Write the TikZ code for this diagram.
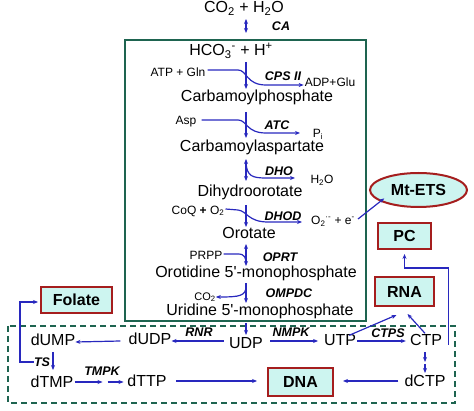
\documentclass[tikz,border=0pt]{standalone}
\usepackage{fontspec}
\setmainfont{Liberation Sans}
\usetikzlibrary{arrows.meta,shapes.geometric,calc}
\definecolor{boxgreen}{RGB}{30,100,80}
\definecolor{arrblue}{RGB}{40,40,190}
\definecolor{cyanfill}{RGB}{205,245,240}
\definecolor{boxred}{RGB}{165,30,30}
\newcommand\dn[1]{\textsubscript{#1}}
\newcommand\up[1]{\textsuperscript{#1}}
\begin{document}
\begin{tikzpicture}[x=1pt,y=-1pt,
 big/.style={font=\fontsize{16}{18}\selectfont, inner sep=0pt, text height=11.5pt, text depth=3.5pt},
 small/.style={font=\fontsize{12}{14}\selectfont, inner sep=0pt},
 enz/.style={font=\fontsize{12.5}{14}\selectfont\bfseries\itshape, inner sep=0pt},
 target/.style={draw=boxred, fill=cyanfill, line width=2pt, font=\fontsize{16}{18}\selectfont\bfseries, inner sep=0pt},
 arr/.style={draw=arrblue, line width=1.2pt, -{Stealth[length=5pt,width=4pt]}},
 darr/.style={draw=arrblue, line width=1.2pt, {Stealth[length=5pt,width=4pt]}-{Stealth[length=5pt,width=4pt]}},
 ln/.style={draw=arrblue, line width=1.2pt},
]
\useasboundingbox (0,0) rectangle (474,411);
% frames
\draw[boxgreen, line width=2pt] (125,40) rectangle (366,321);
\draw[boxgreen, line width=2pt, dash pattern=on 6pt off 4pt] (8,326) rectangle (455,403);
% main pathway
\node[big] (co2) at (244,9) {CO\dn{2} + H\dn{2}O};
\node[big] (hco3) at (231,52) {HCO\dn{3}\up{-} + H\up{+}};
\node[big] (carbp) at (257,98) {Carbamoylphosphate};
\node[big] (carba) at (252,148) {Carbamoylaspartate};
\node[big] (dihy) at (250,193) {Dihydroorotate};
\node[big] (oro) at (249,235) {Orotate};
\node[big] (omp) at (256,274) {Orotidine 5\textquotesingle-monophosphate};
\node[big] (ump) at (260,312) {Uridine 5\textquotesingle-monophosphate};
% side reactants
\node[small] (atp) at (178,72) {ATP + Gln};
\node[small] (adp) at (330,82) {ADP+Glu};
\node[small] (asp) at (186,122) {Asp};
\node[small] (pi) at (318,134) {P\dn{i}};
\node[small] (h2o) at (322,180) {H\dn{2}O};
\node[small] (coq) at (198,211) {CoQ \textbf{+} O\dn{2}};
\node[small] (o2m) at (333,221) {O\dn{2}\up{·-} + e\up{-}};
\node[small] (prpp) at (206,255) {PRPP};
\node[small,font=\fontsize{11}{13}\selectfont] (co2b) at (205,297) {CO\dn{2}};
% enzymes
\node[enz] (ca) at (281,26) {CA};
\node[enz] (cps) at (283,76) {CPS II};
\node[enz] (atc) at (277,125) {ATC};
\node[enz] (dho) at (279,171) {DHO};
\node[enz] (dhod) at (283,216) {DHOD};
\node[enz] (oprt) at (280,257) {OPRT};
\node[enz] (ompdc) at (289,293) {OMPDC};
\node[enz] (rnr) at (199,332) {RNR};
\node[enz] (nmpk) at (291,332) {NMPK};
\node[enz] (ctps) at (388,333) {CTPS};
\node[enz] (ts) at (42,362) {TS};
\node[enz] (tmpk) at (102,371) {TMPK};
% targets
\node[target, ellipse, minimum width=97pt, minimum height=34pt] (mtets) at (418.5,190) {Mt-ETS};
\node[target, minimum width=53pt, minimum height=26pt] (pc) at (404.5,236) {PC};
\node[target, minimum width=59pt, minimum height=29pt] (rna) at (404.5,291.5) {RNA};
\node[target, minimum width=71pt, minimum height=26pt] (folate) at (76.5,300) {Folate};
\node[target, minimum width=65pt, minimum height=28pt] (dna) at (300.5,382) {DNA};
% nucleotides
\node[big] (dump) at (53,342) {dUMP};
\node[big] (dudp) at (150,341) {dUDP};
\node[big] (udp) at (246,345) {UDP};
\node[big] (utp) at (340,342) {UTP};
\node[big] (ctp) at (426,342) {CTP};
\node[big] (dtmp) at (52,384) {dTMP};
\node[big] (dttp) at (147,383) {dTTP};
\node[big] (dctp) at (425,383) {dCTP};
% vertical steps
\draw[darr] (246,19) -- (246,33);
\draw[arr] (246,62) -- (246,89);
\draw[arr] (246,112) -- (246,138);
\draw[darr] (246,159) -- (246,181);
\draw[arr] (246,205) -- (246,227);
\draw[darr] (246,244) -- (246,266);
\draw[arr] (246,283) -- (246,303);
\draw[arr] (246,323) -- (246,335);
% side curves
\draw[arr] (atp.east) ++(2,-2) -- (238,70) .. controls (247,70) and (246,85) .. (266,85) -- ($(adp.west)+(-1,3)$);
\draw[arr] (asp.east) ++(5,-2) -- (238,120) .. controls (247,120) and (246,133) .. (266,133) -- (300,133);
\draw[arr] (246,163) .. controls (247,176) and (252,178) .. (266,178) -- (295,178);
\draw[arr] (coq.east) ++(1,-2) -- (238,210) .. controls (247,211) and (248,222) .. (268,222) -- (302,222);
\draw[arr] (o2m.east) ++(3,-2) -- ($(mtets.south west)!0.5!(mtets.west)+(8,2)$);
\draw[ln] (prpp.east) ++(1,-1) -- (238,254) .. controls (245,254) and (246,258) .. (246,264);
\draw[arr] (246,286) .. controls (246,296) and (240,297) .. (co2b.east);
% bottom network
\draw[arr] (udp.west |- dudp) ++(-5,0) -- (dudp.east);
\draw[arr] (dudp.west) ++(-8,0) -- (dump.east);
\draw[arr] (udp.east |- utp) ++(7,-1) -- ++(48,0);
\draw[arr] (utp.east) ++(1,-1) -- ($(ctp.west)+(-4,-1)$);
\draw[arr] ($(utp.north east)+(-7,1)$) -- ($(rna.south)+(-8,8)$);
\draw[arr] ($(ctp.north)+(-1,-1)$) -- ($(rna.south)+(3,7)$);
\draw[arr] ($(ctp.east)+(6,3)$) |- ($(pc.south)+(0,18)$) -- ($(pc.south)+(0,4)$);
\draw[arr] (425,352) -- (425,362);
\draw[arr] (425,364) -- (425,373);
\draw[arr] (dctp.west) ++(-6,-2) -- ($(dna.east)+(9,-1)$);
\draw[arr] (dttp.east) ++(9,-2) -- ($(dna.west)+(-10,-1)$);
\draw[arr] (dtmp.east) ++(1,-2) -- ++(28,0);
\draw[arr] (dtmp.east) ++(34,-2) -- ++(16,0);
\draw[arr] (53,352) -- (53,370);
\draw[arr] (ts.west) -- (20,362) |- ($(folate.west)+(-2,2)$);
\end{tikzpicture}
\end{document}
